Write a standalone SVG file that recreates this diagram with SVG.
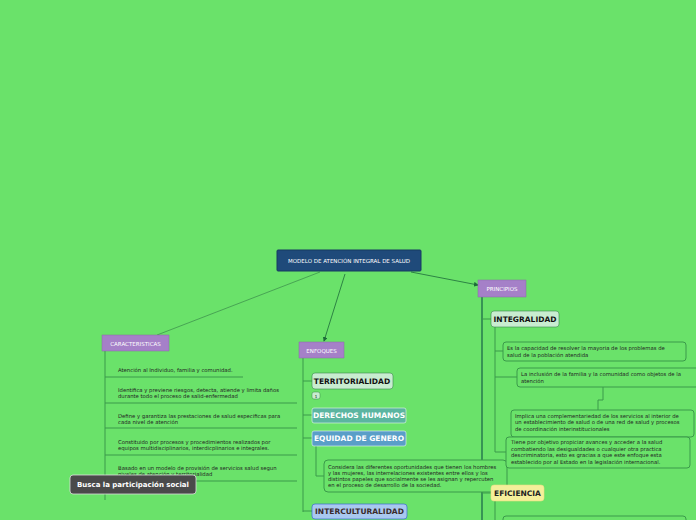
<svg xmlns="http://www.w3.org/2000/svg" width="696" height="520" viewBox="0 0 696 520">
<style>
text{font-family:"DejaVu Sans",Verdana,sans-serif}
.t{font-size:5.3px;fill:#222}
.cat{fill:#a580c8;stroke:#8a6aa8;stroke-width:0.5}
.cl{fill:#fff;font-size:5.5px}
.ln{stroke:#3a9a4a;stroke-width:1;fill:none}
.bx{fill:#6ae26a;stroke:#3a9a4a;stroke-width:1}
.h{font-size:7.5px;font-weight:bold}
</style>
<defs><marker id="a" markerWidth="6" markerHeight="6" refX="5" refY="3" orient="auto"><path d="M0,0L6,3L0,6z" fill="#1d6b3a"/></marker></defs>
<rect width="696" height="520" fill="#6ae26a"/>
<g id="connectors">
<line x1="320" y1="272" x2="157" y2="335" stroke="#3a8a4a" stroke-width="0.7"/>
<line x1="345" y1="274" x2="324" y2="341" stroke="#1d6b3a" stroke-width="0.8" marker-end="url(#a)"/>
<line x1="411" y1="272" x2="478" y2="285" stroke="#1d6b3a" stroke-width="0.8" marker-end="url(#a)"/>
<path class="ln" d="M105,351V500M105,377H243M105,403H297M105,428H297M105,455H297M105,481H297" stroke="#2a8a3a"/>
<path class="ln" d="M303,358V512M303,381H312M303,415H312M303,438H312M303,511H312M316,446V476H324"/>
<path d="M482,297V520" stroke="#1d6b4a" stroke-width="1.3"/>
<path class="ln" d="M482,319H491M482,493H491M495,327V452H506M495,351H503M495,377H517M603,387V400H598V410M495,501V520"/>
</g>
<g id="root"><rect x="277" y="250" width="144" height="21" rx="1" fill="#1f4a7a" stroke="#173a60"/><text x="349" y="263" text-anchor="middle" fill="#fff" font-size="5.5">MODELO DE ATENCIÓN INTEGRAL DE SALUD</text></g>
<g id="caracteristicas"><rect class="cat" x="102" y="335" width="67" height="16"/><text class="cl" x="135.5" y="345.5" text-anchor="middle">CARACTERISTICAS</text>
<text class="t" x="118" y="372">Atención al Individuo, familia y comunidad.</text>
<text class="t" x="118" y="392">Identifica y previene riesgos, detecta, atiende y limita daños</text><text class="t" x="118" y="398">durante todo el proceso de salid-enfermedad</text>
<text class="t" x="118" y="418">Define y garantiza las prestaciones de salud especificas para</text><text class="t" x="118" y="424">cada nivel de atención</text>
<text class="t" x="118" y="444" fill="#5a2a2a">Constituido por procesos y procedimientos realizados por</text><text class="t" x="118" y="450" fill="#5a2a2a">equipos multidisciplinarios, interdicplinarios e integrales.</text>
<text class="t" x="118" y="470">Basado en un modelo de provisión de servicios salud segun</text><text class="t" x="118" y="476">niveles de atención y territorialidad</text></g>
<g id="busca"><rect x="70" y="475" width="126" height="19" rx="3" fill="#4a4a4a" stroke="#ddd" stroke-width="0.8"/><text x="133" y="487" text-anchor="middle" fill="#fff" font-size="7" font-weight="bold">Busca la participación social</text></g>
<g id="enfoques"><rect class="cat" x="299" y="342" width="45" height="16"/><text class="cl" x="321.5" y="352.5" text-anchor="middle">ENFOQUES</text></g>
<g id="territorialidad"><rect x="312" y="373" width="81" height="16" rx="3" fill="#c8ecd0" stroke="#3a8a4a" stroke-width="0.6"/><text class="h" x="352" y="384" text-anchor="middle" fill="#111">TERRITORIALIDAD</text><rect x="312" y="392" width="8" height="7" rx="2" fill="#c8ecd0" stroke="#3a8a4a" stroke-width="0.5"/><text x="316" y="398" font-size="4" text-anchor="middle">1</text></g>
<g id="derechos"><rect x="312" y="408" width="94" height="15" rx="2" fill="#5bb5a0" stroke="#e8f8f0" stroke-width="0.6"/><text class="h" x="359" y="418" text-anchor="middle" fill="#fff">DERECHOS HUMANOS</text></g>
<g id="equidad"><rect x="312" y="431" width="94" height="15" rx="2" fill="#5a9ec8" stroke="#e8f4fa" stroke-width="0.6"/><text class="h" x="359" y="441" text-anchor="middle" fill="#fff">EQUIDAD DE GENERO</text>
<rect class="bx" x="324" y="460" width="183" height="32" rx="4"/><text class="t" x="328" y="469">Considera las diferentes oportunidades que tienen los hombres</text><text class="t" x="328" y="475">y las mujeres, las interrelaciones existentes entre ellos y los</text><text class="t" x="328" y="481">distintos papeles que socialmente  se les asignan y repercuten</text><text class="t" x="328" y="487">en el proceso de desarrollo de la sociedad.</text></g>
<g id="intercult"><rect x="312" y="504" width="95" height="15" rx="3" fill="#a8c8f0" stroke="#3a6ad0" stroke-width="0.7"/><text class="h" x="359.5" y="514" text-anchor="middle" fill="#3a2a2a">INTERCULTURALIDAD</text></g>
<g id="principios"><rect class="cat" x="478" y="280" width="48" height="17"/><text class="cl" x="502" y="290.5" text-anchor="middle">PRINCIPIOS</text></g>
<g id="integralidad"><rect x="491" y="311" width="68" height="16" rx="3" fill="#c8ecd0" stroke="#3a8a4a" stroke-width="0.6"/><text class="h" x="525" y="322" text-anchor="middle" fill="#111">INTEGRALIDAD</text>
<rect class="bx" x="503" y="342" width="183" height="19" rx="3"/><text class="t" x="507" y="350">Es la capacidad de resolver la mayoria  de los problemas de</text><text class="t" x="507" y="357">salud de la población atendida</text>
<rect class="bx" x="517" y="368" width="182" height="19" rx="3"/><text class="t" x="521" y="376">La inclusión de la familia y la comunidad como objetos de la</text><text class="t" x="521" y="383">atención</text>
<rect class="bx" x="511" y="410" width="183" height="27" rx="3"/><text class="t" x="515" y="418">Implica una complementariedad de los servicios al interior de</text><text class="t" x="515" y="424">un establecimiento de salud o de una red de salud y procesos</text><text class="t" x="515" y="431">de coordinación interinstitucionales</text>
<rect class="bx" x="506" y="437" width="184" height="31" rx="3"/><text class="t" x="511" y="444">Tiene por objetivo propiciar avances y acceder a la salud</text><text class="t" x="511" y="451">combatiendo las desigualdades o cualquier otra practica</text><text class="t" x="511" y="457">descriminatoria, esto es gracias a que este enfoque esta</text><text class="t" x="511" y="464">establecido por al Estado en la legislación internacional.</text></g>
<g id="eficiencia"><rect x="491" y="485" width="53" height="16" rx="3" fill="#f5ef9a" stroke="#e8e080" stroke-width="0.6"/><text class="h" x="517.5" y="496" text-anchor="middle" fill="#222">EFICIENCIA</text><rect class="bx" x="503" y="516" width="183" height="10" rx="3"/></g>
</svg>
